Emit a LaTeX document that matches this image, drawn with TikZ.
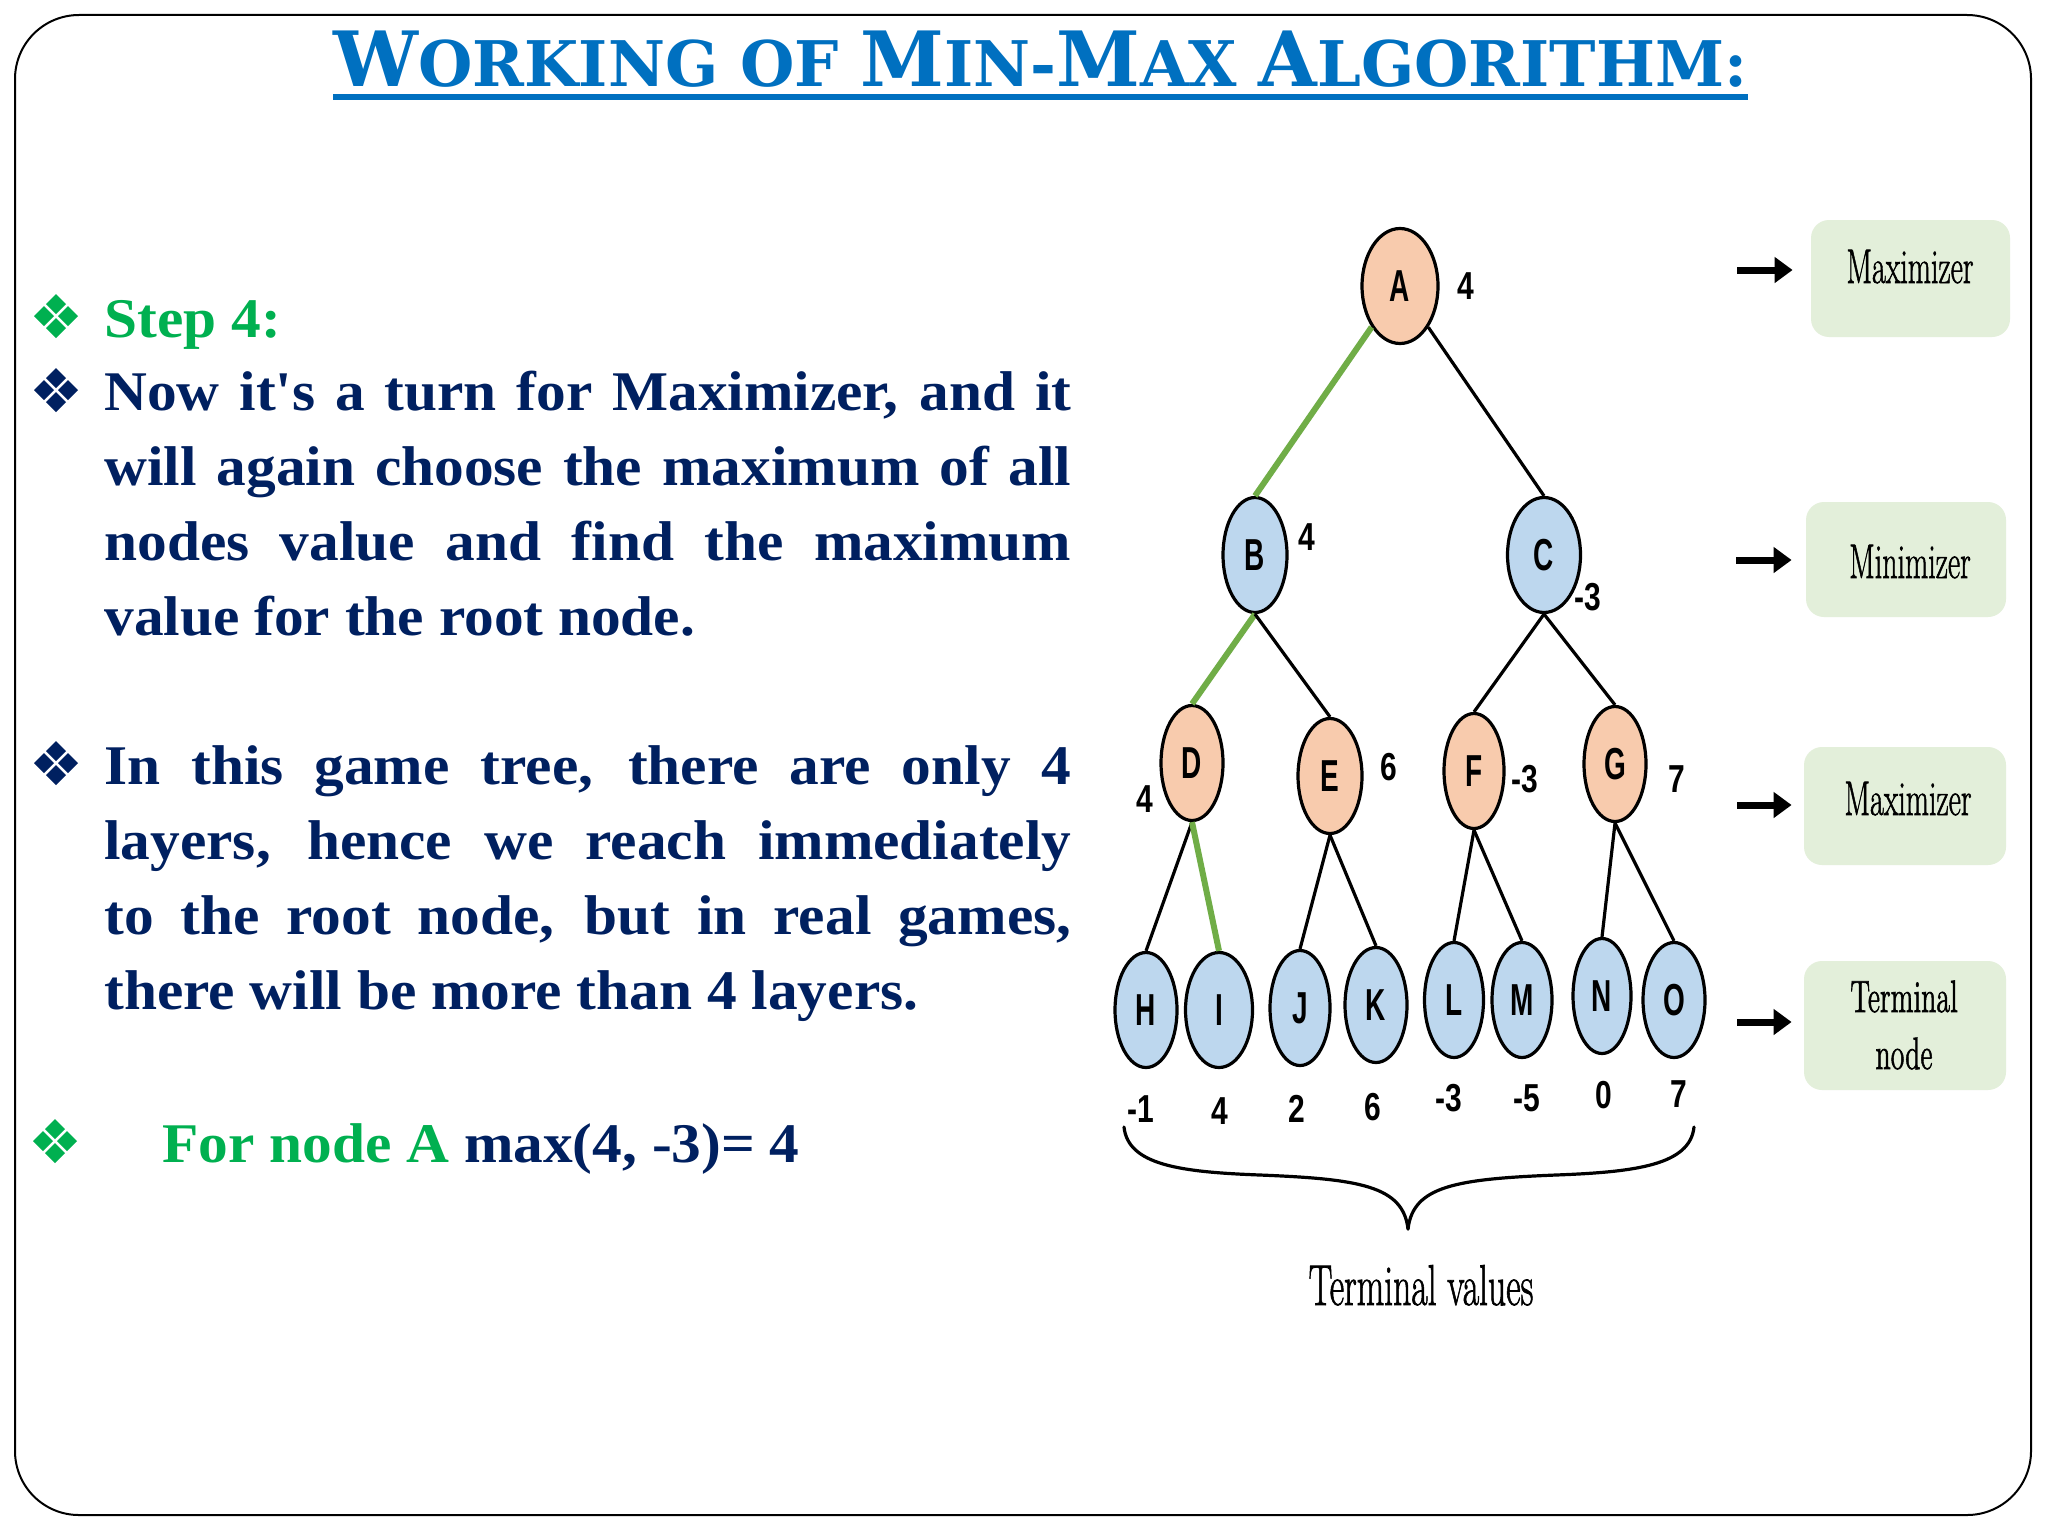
\documentclass[tikz,border=0pt]{standalone}
\usepackage{graphicx}
\usepackage{fontspec}
\setmainfont{Liberation Serif}
\newfontfamily\bodyfont[FakeStretch=1.06]{Liberation Serif}
\newfontfamily\titlefont{DejaVu Serif}
\newfontfamily\sansfont{Liberation Sans}
\newfontfamily\lmfont[FakeBold=1.5]{Latin Modern Roman}
\usetikzlibrary{shapes.geometric,arrows.meta}
\definecolor{titleblue}{HTML}{0070C0}
\definecolor{stepgreen}{HTML}{00B050}
\definecolor{navy}{HTML}{002060}
\definecolor{nodeorange}{HTML}{F8CBAD}
\definecolor{nodeblue}{HTML}{BDD7EE}
\definecolor{edgegreen}{HTML}{70AD47}
\definecolor{boxgreen}{HTML}{E3EFDA}
\newcommand\tbig[1]{{\fontsize{40}{40}\selectfont #1}}
\newcommand\tsml[1]{{\fontsize{33}{33}\selectfont #1}}
\newcommand\nlet[1]{\scalebox{1}[1.6]{#1}}
\newcommand\nval[1]{\scalebox{1}[1.3]{#1}}
\newcommand\lmtxt[1]{\scalebox{1}[1.62]{#1}}
\tikzset{
  quad/.pic={\foreach \r in {0,90,180,270}{\fill[rotate=\r,pic actions] (0,2) -- (10,12) -- (0,22) -- (-10,12) -- cycle;}},
  tn/.style={ellipse, draw=black, line width=1.6pt, inner sep=0pt, minimum width=31pt, minimum height=57.5pt, font=\sansfont\bfseries\fontsize{14}{14}\selectfont},
  maxn/.style={tn, fill=nodeorange},
  minn/.style={tn, fill=nodeblue},
  tedge/.style={line width=1.6pt, black},
  gedge/.style={line width=3pt, edgegreen},
  vlab/.style={inner sep=0pt, font=\sansfont\bfseries\fontsize{15}{15}\selectfont},
  lvbox/.style={rectangle, rounded corners=9pt, fill=boxgreen, inner sep=0pt},
  lvtext/.style={inner sep=0pt, anchor=base, font=\lmfont\fontsize{15}{15}\selectfont},
  levarrow/.style={line width=3.5pt, -{Triangle[length=9pt,width=12.5pt]}},
  bodytext/.style={inner sep=0pt, anchor=base west, font=\bodyfont\bfseries\fontsize{28}{37.5}\selectfont},
}
\begin{document}
\begin{tikzpicture}[x=0.5pt,y=-0.5pt]
\useasboundingbox (0,0) rectangle (2048,1536);
\fill[white] (0,0) rectangle (2048,1536);
% slide frame
\draw[black, line width=1pt, rounded corners=32pt] (15,15) rectangle (2031,1515);

% title
\node[inner sep=0pt, anchor=base west, text=titleblue] (title) at (333,87)
  {\resizebox{707pt}{27.8pt}{\titlefont\bfseries \tbig{W}\tsml{ORKING OF }\tbig{M}\tsml{IN-}\tbig{M}\tsml{AX }\tbig{A}\tsml{LGORITHM:}}};
\draw[titleblue, line width=3pt] ([yshift=-5pt]title.base west) -- ([yshift=-5pt]title.base east);

% left text
\pic[fill=stepgreen] at (56,316) {quad};
\pic[fill=navy] at (56,390) {quad};
\pic[fill=navy] at (56,763) {quad};
\pic[fill=stepgreen] at (55,1141) {quad};

\node[bodytext, text=stepgreen] (step) at (104,337) {Step 4:};
\node[bodytext, text=navy, text width=483.5pt, align=justify] (p1) at (104,410)
  {Now it's a turn for Maximizer, and it\linebreak will again choose the maximum of all\linebreak nodes value and find the maximum\linebreak value for the root node.};
\node[bodytext, text=navy, text width=483.5pt, align=justify] (p2) at (104,784)
  {In this game tree, there are only 4\linebreak layers, hence we reach immediately\linebreak to the root node, but in real games,\linebreak there will be more than 4 layers.};
\node[bodytext] (p3) at (162,1162) {\textcolor{stepgreen}{For node A} \textcolor{navy}{max(4, -3)= 4}};

% tree nodes
\node[maxn, minimum width=38pt] (A) at (1400,286) {\nlet{A}};
\node[minn, minimum width=32pt] (B) at (1255,555) {\nlet{B}};
\node[minn, minimum width=36.5pt] (C) at (1544,555) {\nlet{C}};
\node[maxn] (D) at (1192,763) {\nlet{D}};
\node[maxn, minimum width=32pt] (E) at (1330,776) {\nlet{E}};
\node[maxn, minimum width=30pt] (F) at (1474,771) {\nlet{F}};
\node[maxn] (G) at (1615,764) {\nlet{G}};
\node[minn] (H) at (1146,1010) {\nlet{H}};
\node[minn, minimum width=33.5pt] (I) at (1219,1010) {\nlet{I}};
\node[minn, minimum width=30pt] (J) at (1300,1008) {\nlet{J}};
\node[minn] (K) at (1376,1005) {\nlet{K}};
\node[minn, minimum width=29.5pt] (L) at (1454,1000) {\nlet{L}};
\node[minn, minimum width=30pt] (M) at (1522,1000) {\nlet{M}};
\node[minn, minimum width=29pt] (N) at (1602,996) {\nlet{N}};
\node[minn] (O) at (1674,1000) {\nlet{O}};

% edges
\draw[gedge] (A) -- (B.north);
\draw[tedge] (A) -- (C.north);
\draw[gedge] (B.south) -- (D.north);
\draw[tedge] (B.south) -- (E.north);
\draw[tedge] (C.south) -- (F.north);
\draw[tedge] (C.south) -- (G.north);
\draw[tedge] (D.south) -- (H.north);
\draw[gedge] (D.south) -- (I.north);
\draw[tedge] (E.south) -- (J.north);
\draw[tedge] (E.south) -- (K.north);
\draw[tedge] (F.south) -- (L.north);
\draw[tedge] (F.south) -- (M.north);
\draw[tedge] (G.south) -- (N.north);
\draw[tedge] (G.south) -- (O.north);

% node values
\node[vlab] (vA) at (1466,286) {\nval{4}};
\node[vlab] (vB) at (1307,537) {\nval{4}};
\node[vlab] (vC) at (1588,597) {\nval{-3}};
\node[vlab] (vD) at (1145,799) {\nval{4}};
\node[vlab] (vE) at (1389,767) {\nval{6}};
\node[vlab] (vF) at (1525,779) {\nval{-3}};
\node[vlab] (vG) at (1677,779) {\nval{7}};

% terminal values
\node[vlab] (tH) at (1141,1109) {\nval{-1}};
\node[vlab] (tI) at (1220,1111) {\nval{4}};
\node[vlab] (tJ) at (1297,1109) {\nval{2}};
\node[vlab] (tK) at (1373,1107) {\nval{6}};
\node[vlab] (tL) at (1449,1098) {\nval{-3}};
\node[vlab] (tM) at (1527,1098) {\nval{-5}};
\node[vlab] (tN) at (1604,1095) {\nval{0}};
\node[vlab] (tO) at (1679,1094) {\nval{7}};

% brace
\draw[line width=1.6pt, line cap=round]
  (1124,1127) .. controls (1128,1165) and (1180,1172) .. (1260,1175)
  .. controls (1360,1179) and (1403,1186) .. (1408,1229);
\draw[line width=1.6pt, line cap=round]
  (1694,1127) .. controls (1690,1165) and (1636,1172) .. (1556,1175)
  .. controls (1456,1179) and (1413,1186) .. (1408,1229);
\node[lvtext, font=\lmfont\fontsize{17.8}{17.8}\selectfont] (tv) at (1421,1305) {\lmtxt{Terminal values}};

% level boxes
\node[lvbox, minimum width=99.5pt, minimum height=58.5pt] (b1) at (1910.5,278.5) {};
\node[lvbox, minimum width=100pt, minimum height=57.5pt] (b2) at (1906,559.5) {};
\node[lvbox, minimum width=101pt, minimum height=59pt] (b3) at (1905,806) {};
\node[lvbox, minimum width=101pt, minimum height=64.5pt] (b4) at (1905,1025.5) {};
\node[lvtext] (l1) at (1910,283) {\lmtxt{Maximizer}};
\node[lvtext] (l2) at (1910,578) {\lmtxt{Minimizer}};
\node[lvtext] (l3) at (1908,815) {\lmtxt{Maximizer}};
\node[lvtext, font=\lmfont\fontsize{14}{14}\selectfont] (l4a) at (1904,1012) {\lmtxt{Terminal}};
\node[lvtext, font=\lmfont\fontsize{14}{14}\selectfont] (l4b) at (1904,1069) {\lmtxt{node}};

% arrows
\coordinate (a1) at (1737,270);
\coordinate (a2) at (1736,560);
\coordinate (a3) at (1737,805);
\coordinate (a4) at (1737,1022);
\draw[levarrow, shorten >=9pt] (a1) -- (a1 -| b1.west);
\draw[levarrow, shorten >=7pt] (a2) -- (a2 -| b2.west);
\draw[levarrow, shorten >=6pt] (a3) -- (a3 -| b3.west);
\draw[levarrow, shorten >=6pt] (a4) -- (a4 -| b4.west);
\end{tikzpicture}
\end{document}
